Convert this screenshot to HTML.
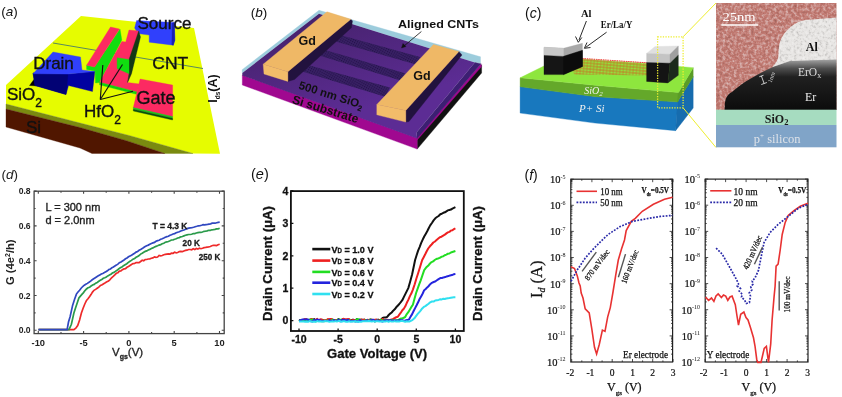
<!DOCTYPE html>
<html><head><meta charset="utf-8"><style>
html,body{margin:0;padding:0;background:#fff;overflow:hidden;}
svg{display:block;filter:blur(0.6px);}
</style></head><body>
<svg width="842" height="397" viewBox="0 0 842 397">
<rect width="842" height="397" fill="#fff"/>
<g id="pa">
<polygon fill="#e6fc00" points="6,85 81,16 194,28 220,153.8 193,153.5 130,135.7 80,123 6,104"/>
<polygon fill="#7a8a10" stroke="#7a8a10" stroke-width="0.35" points="6,104 80,123 130,135.7 193,153.5 164.8,153.5 126.5,140.7 80,127.5 6,109"/>
<polygon fill="#501600" stroke="#501600" stroke-width="0.35" points="6,109 80,127.5 126.5,140.7 164.8,153.5 92,153.5 80,148 6,127"/>
<line x1="53" y1="43" x2="203" y2="68.5" stroke="#4a7a6a" stroke-width="0.9"/>
<polygon fill="#000" stroke="#000" stroke-width="0.35" points="29.5,85.5 35,78 38,86"/>
<polygon fill="#0202a0" stroke="#0202a0" stroke-width="0.35" points="33,73 68,74 95,71 92.5,91.5 68.5,85.5 66,94.5 35,85.5"/>
<polygon fill="#020274" stroke="#020274" stroke-width="0.35" points="33,73 68,74.5 66,94.5 35,85.5"/>
<polygon fill="#3040fc" stroke="#3040fc" stroke-width="0.35" points="53,52 80.5,57 82,70 95,71.5 68,74 33,73.8"/>
<polygon fill="#3040fc" stroke="#3040fc" stroke-width="0.35" points="136.6,20.5 174.3,22.6 174.8,40.2 173.3,45.2 149.2,42.2 149.2,35.1 138.1,33.6 134.6,28.1"/>
<polygon fill="#1a20b0" stroke="#1a20b0" stroke-width="0.35" points="172.3,23 174.3,22.6 174.8,40.2 173.3,45.2 171.8,44.8"/>
<polygon fill="#10dd10" stroke="#10dd10" stroke-width="0.35" points="120,29 121.8,40 99.5,82.5 95.5,83 95,71 86.6,69.5 86.6,65.2 94.6,67"/>
<polygon fill="#fc2a62" stroke="#fc2a62" stroke-width="0.35" points="110.5,27 119.5,29 94.6,67 86.6,65.2"/>
<polygon fill="#fc2a62" stroke="#fc2a62" stroke-width="0.35" points="129,30 138.7,31 131,73.7 127.5,82.5 139.5,84 137,92 99.5,82.3 121.8,41.4 125.7,42"/>
<polygon fill="#143a14" stroke="#143a14" stroke-width="0.35" points="138.7,31 140.5,37 131.5,73.7 127.5,82.5 129,73.7 129,59.5"/>
<polygon fill="#10dd10" stroke="#10dd10" stroke-width="0.35" points="117.1,57.8 129,59.5 129,73.7 117.1,68.5"/>
<polygon fill="#10d010" stroke="#10d010" stroke-width="0.35" points="99.5,82.3 137,92 136.5,94.3 99.5,84.8"/>
<polygon fill="#fc2a62" stroke="#fc2a62" stroke-width="0.35" points="140.1,79 172.6,85.1 172.6,116.8 133.3,107.8"/>
<polygon fill="#20c020" stroke="#20c020" stroke-width="0.35" points="133.3,107.6 172.6,116.6 172.6,118.3 133.3,109.3"/>
<polygon fill="#0a5010" stroke="#0a5010" stroke-width="0.35" points="133.3,109.3 172.6,118.3 172.6,120 133.3,111"/>
<line x1="100.3" y1="99.5" x2="102.8" y2="65" stroke="#111" stroke-width="1.15"/>
<line x1="100.3" y1="99.5" x2="122.5" y2="64.5" stroke="#111" stroke-width="1.15"/>
<line x1="100.3" y1="99.5" x2="133" y2="91.3" stroke="#111" stroke-width="1.15"/>
<text x="1.3" y="16" font-family="Liberation Sans" fill="#111" font-size="13.5">(<tspan font-style="italic">a</tspan>)</text>
<text x="137.5" y="29.3" font-family="Liberation Sans" fill="#111" stroke="#111" stroke-width="0.35" font-size="17" textLength="54" lengthAdjust="spacingAndGlyphs">Source</text>
<text x="33.2" y="69.2" font-family="Liberation Sans" fill="#111" stroke="#111" stroke-width="0.35" font-size="17">Drain</text>
<text x="152.3" y="69.2" font-family="Liberation Sans" fill="#111" stroke="#111" stroke-width="0.35" font-size="17" textLength="36" lengthAdjust="spacingAndGlyphs">CNT</text>
<text x="7" y="99.7" font-family="Liberation Sans" fill="#111" stroke="#111" stroke-width="0.35" font-size="17">SiO<tspan font-size="12" dy="7">2</tspan></text>
<text x="84" y="117" font-family="Liberation Sans" fill="#111" stroke="#111" stroke-width="0.35" font-size="17">HfO<tspan font-size="12" dy="7">2</tspan></text>
<text x="136.5" y="104" font-family="Liberation Sans" fill="#111" stroke="#111" stroke-width="0.35" font-size="18">Gate</text>
<text x="26" y="133.2" font-family="Liberation Sans" fill="#111" stroke="#111" stroke-width="0.35" font-size="17">Si</text>
<text transform="translate(217,102.8) rotate(-90)" font-family="Liberation Sans" fill="#111" font-size="12.5" font-weight="bold">I<tspan font-size="6.5" dy="2.5">ds</tspan><tspan dy="-2.5">(A)</tspan></text>
</g>
<g id="pb">
<defs><linearGradient id="purp" gradientUnits="userSpaceOnUse" x1="300" y1="20" x2="330" y2="120"><stop offset="0" stop-color="#46226c"/><stop offset="1" stop-color="#5c2c94"/></linearGradient><pattern id="hatch" width="2.2" height="2.2" patternUnits="userSpaceOnUse" patternTransform="rotate(30)"><rect width="2.2" height="2.2" fill="#382064"/><rect width="1.1" height="1.1" fill="#24124a"/></pattern></defs>
<polygon fill="#9cccdc" stroke="#9cccdc" stroke-width="0.35" points="242.1,69.7 319,10.3 480.5,56.8 480.5,63 474.8,62.5 319,13.8 242.3,73"/>
<polygon fill="#111" stroke="#111" stroke-width="0.35" points="417.2,138 481.6,64.7 481.6,73 417.2,149.1"/>
<polygon fill="#a00890" stroke="#a00890" stroke-width="0.35" points="417.2,137.5 481,63.8 481.6,66.5 417.2,140"/>
<polygon fill="#a00890" stroke="#a00890" stroke-width="0.35" points="242.3,75 417.2,138 417.2,149.1 242.3,85"/>
<polygon fill="#3c1f72" stroke="#3c1f72" stroke-width="0.35" points="416.5,132.5 474.8,62.5 481,63.8 417.2,138.3"/>
<polygon fill="url(#purp)" points="242.3,73 319,13.8 474.8,62.5 416.5,132.5 417.2,138.4 242.3,75.4"/>
<polygon fill="url(#hatch)" points="342,35.6 420,57 416,64.5 335.5,41.5"/>
<polygon fill="url(#hatch)" points="323.5,49.6 405,73.2 401.3,80.8 318.4,55.2"/>
<polygon fill="url(#hatch)" points="307,64.7 390,87.4 385,96.8 301.3,71.3"/>
<polygon fill="#22123e" stroke="#22123e" stroke-width="0.35" points="350.8,19.2 352.5,21 351.4,27.7 294.5,79.5 287.9,81.4 287.9,71.7"/>
<polygon fill="#f2bc6a" stroke="#f2bc6a" stroke-width="0.35" points="263.2,64.2 287.9,71.7 287.9,81.4 264,74"/>
<polygon fill="#efb866" stroke="#efb866" stroke-width="0.35" points="327,11.8 350.8,19.2 287.9,71.7 263.2,64.2"/>
<polygon fill="#22123e" stroke="#22123e" stroke-width="0.35" points="458.9,51.4 462,55 409,121.5 405.8,122.1 405.8,110.5"/>
<polygon fill="#f2bc6a" stroke="#f2bc6a" stroke-width="0.35" points="376.8,104.6 405.8,110.5 405.8,122.1 376.8,114.8"/>
<polygon fill="#efb866" stroke="#efb866" stroke-width="0.35" points="433.5,44.5 458.9,51.4 405.8,110.5 376.8,104.6"/>
<text x="250.8" y="16.5" font-family="Liberation Sans" fill="#111" font-size="13.5">(<tspan font-style="italic">b</tspan>)</text>
<text x="398" y="28.2" font-family="Liberation Sans" fill="#111" font-size="11.8" font-weight="bold" textLength="81" lengthAdjust="spacingAndGlyphs">Aligned CNTs</text>
<line x1="421.4" y1="31.5" x2="404" y2="46" stroke="#111" stroke-width="0.8"/>
<polygon fill="#111" stroke="#111" stroke-width="0.35" points="401.5,48 403,43.5 406,46.5"/>
<text x="298.5" y="45.4" font-family="Liberation Sans" fill="#111" font-size="12.5" font-weight="bold">Gd</text>
<text x="413.3" y="79.6" font-family="Liberation Sans" fill="#111" font-size="12.5" font-weight="bold">Gd</text>
<text transform="translate(298,88.5) rotate(17.5)" font-family="Liberation Sans" fill="#111" font-size="11.5" font-weight="bold">500 nm SiO<tspan font-size="8" dy="3">2</tspan></text>
<text transform="translate(291.5,103) rotate(17)" font-family="Liberation Sans" fill="#111" font-size="12" font-weight="bold">Si substrate</text>
</g>
<g id="pc">
<defs>
<pattern id="cnt" width="3.3" height="2.9" patternUnits="userSpaceOnUse" patternTransform="rotate(5)"><path d="M0,1.45 L0.8,0 L2.45,0 L3.3,1.45 L2.45,2.9 L0.8,2.9 Z" fill="none" stroke="#dd4418" stroke-width="0.5"/></pattern>
<filter id="noise" x="0" y="0" width="1" height="1"><feTurbulence type="fractalNoise" baseFrequency="0.35" numOctaves="3" seed="3" result="t"/><feColorMatrix in="t" type="matrix" values="0 0 0 0 1  0 0 0 0 1  0 0 0 0 1  0.9 0 0 0 -0.42" result="w"/><feColorMatrix in="t" type="matrix" values="0 0 0 0 0  0 0 0 0 0  0 0 0 0 0  -1.0 0 0 0 0.46" result="k"/><feComposite in="w" in2="SourceGraphic" operator="in" result="w2"/><feComposite in="k" in2="SourceGraphic" operator="in" result="k2"/><feMerge><feMergeNode in="SourceGraphic"/><feMergeNode in="w2"/><feMergeNode in="k2"/></feMerge></filter>
<linearGradient id="erg" gradientUnits="userSpaceOnUse" x1="0" y1="59" x2="0" y2="110"><stop offset="0" stop-color="#a8a8a8"/><stop offset="0.18" stop-color="#505050"/><stop offset="0.35" stop-color="#202020"/><stop offset="1" stop-color="#0c0c0c"/></linearGradient>
</defs>
<polygon fill="#1878be" stroke="#1878be" stroke-width="0.35" points="520.1,86.5 595,96.4 678,101.7 675.6,130.7 595,123.1 520.1,113.1"/>
<polygon fill="#166cae" stroke="#166cae" stroke-width="0.35" points="677.5,101.7 693.2,76.5 693.2,108 675.6,130.7"/>
<polygon fill="#64a82a" stroke="#64a82a" stroke-width="0.35" points="520.1,77.8 595,85.3 678.6,92.6 678,102 595,96.7 520.1,86.8"/>
<polygon fill="#5a9c26" stroke="#5a9c26" stroke-width="0.35" points="678.1,92.9 693.2,67.7 693.2,77 677.5,102"/>
<polygon fill="#8ee63e" stroke="#8ee63e" stroke-width="0.35" points="520.1,77.8 552,62 573,58.5 647,63.5 693.2,67.7 678.6,92.6 595,85.3"/>
<polygon fill="url(#cnt)" points="571,57.5 647,62.5 647,75.5 574,74.5"/>
<line x1="573" y1="57.8" x2="647" y2="62.8" stroke="#ee2020" stroke-width="0.8" stroke-dasharray="1.5,0.8"/>
<polygon fill="#a8a8a8" stroke="#a8a8a8" stroke-width="0.35" points="544,47.3 563.5,48.3 582.4,43.3 582.4,50.4 563.5,56.4 544,55.4"/>
<polygon fill="#c8c8c8" stroke="#c8c8c8" stroke-width="0.35" points="544,47.3 563.5,48.3 563.5,56.4 544,55.4"/>
<polygon fill="#151515" stroke="#151515" stroke-width="0.35" points="544,55.4 563.5,56.4 582.4,50.4 582.4,66.5 563.5,74.6 544,74.6"/>
<polygon fill="#0c0c0c" stroke="#0c0c0c" stroke-width="0.35" points="563.5,56.4 582.4,50.4 582.4,66.5 563.5,74.6"/>
<polygon fill="#e0e0e0" stroke="#e0e0e0" stroke-width="0.35" points="646.6,53.4 655,46.6 678.3,45.9 670,54.2"/>
<polygon fill="#c4c4c4" stroke="#c4c4c4" stroke-width="0.35" points="646.6,53.4 670,54.2 670,63.2 646.6,62.5"/>
<polygon fill="#a0a0a0" stroke="#a0a0a0" stroke-width="0.35" points="670,54.2 678.3,45.9 678.3,55 670,63.2"/>
<polygon fill="#141414" stroke="#141414" stroke-width="0.35" points="646.6,62.5 670,63.2 667.8,82.9 646.6,81.4"/>
<polygon fill="#1c2a1c" stroke="#1c2a1c" stroke-width="0.35" points="670,63.2 678.3,55 678.3,75.3 667.8,82.9"/>
<rect x="657.6" y="36.8" width="25.5" height="71" fill="none" stroke="#eeee30" stroke-width="1.3" stroke-dasharray="1.3,1.3"/>
<line x1="683.1" y1="36.8" x2="716" y2="3" stroke="#eeee30" stroke-width="1"/>
<line x1="683.1" y1="107.8" x2="716" y2="147.5" stroke="#eeee30" stroke-width="1"/>
<g filter="url(#noise)">
<rect x="716" y="3" width="120.5" height="107" fill="#c27a72"/>
<path fill="#e6e4e2" d="M772,67.5 C776,63 778.5,60 778.5,54 C778.5,46 780,38 786,31.5 C792,25 798,21 806,20 L836.5,17.5 L836.5,63 L790,63.5 Z"/>
</g>
<path fill="url(#erg)" d="M772.9,66.9 L790,61 L836.5,59.5 L836.5,110 L724.5,110 L725,102.6 C726,97 728,94 732,92 C738,87 744,82 750.4,78.8 C758,74 766,70 772.9,66.9 Z"/>
<rect x="716" y="109.7" width="120.5" height="15.3" fill="#a6dcc0"/>
<rect x="716" y="125" width="120.5" height="22.3" fill="#80a4c8"/>
<text x="722.5" y="21" font-family="Liberation Serif" font-size="12.5" fill="#fff" textLength="33" lengthAdjust="spacingAndGlyphs">25nm</text>
<line x1="721.3" y1="25" x2="758.3" y2="25" stroke="#fff" stroke-width="1.3"/>
<text x="805.8" y="50.9" font-family="Liberation Serif" font-size="12" font-weight="bold" fill="#111">Al</text>
<text x="798" y="76" font-family="Liberation Serif" font-size="11.5" fill="#ddd">ErO<tspan font-size="8" dy="2">x</tspan></text>
<text x="805" y="101" font-family="Liberation Serif" font-size="12" fill="#eee">Er</text>
<text x="764.8" y="122.6" font-family="Liberation Serif" font-size="12" font-weight="bold" fill="#1a1a1a">SiO<tspan font-size="8.5" dy="2">2</tspan></text>
<text x="753.8" y="142.6" font-family="Liberation Serif" font-size="12.5" fill="#dde2e8">p<tspan font-size="7" dy="-4.5">+</tspan><tspan dy="4.5"> silicon</tspan></text>
<g stroke="#ddd" stroke-width="0.9"><line x1="761.4" y1="76" x2="764.1" y2="83.5"/><line x1="759.3" y1="76.75" x2="763.5" y2="75.25"/><line x1="761.3" y1="84.5" x2="766.9" y2="82.5"/></g>
<text transform="translate(771.5,83) rotate(-70)" font-family="Liberation Serif" font-size="6" fill="#ddd">1nm</text>
<text x="525" y="17.8" font-family="Liberation Sans" font-size="14" fill="#111">(<tspan font-style="italic">c</tspan>)</text>
<text x="581" y="17" font-family="Liberation Serif" font-size="10.5" font-weight="bold" fill="#111">Al</text>
<text x="600.8" y="28" font-family="Liberation Serif" font-size="10" font-weight="bold" fill="#111" textLength="31.5" lengthAdjust="spacingAndGlyphs">Er/La/Y</text>
<line x1="586.4" y1="21" x2="579" y2="40" stroke="#111" stroke-width="0.9"/>
<polyline points="575.5,36.5 578.3,42.3 581.8,37.5" fill="none" stroke="#111" stroke-width="0.9"/>
<line x1="606.6" y1="32.2" x2="585.5" y2="47.5" stroke="#111" stroke-width="0.9"/>
<polyline points="587,42.5 584.4,48.3 590.5,47.5" fill="none" stroke="#111" stroke-width="0.9"/>
<text x="584.2" y="93.5" font-family="Liberation Serif" font-size="10" font-style="italic" fill="#f0f0f0">SiO<tspan font-size="7" dy="2">2</tspan></text>
<text x="579" y="112" font-family="Liberation Serif" font-size="11" font-style="italic" fill="#f0f0f0">P+ Si</text>
</g>
<g id="pd">
<rect x="34.1" y="191.2" width="190.1" height="142.40000000000003" fill="none" stroke="#444" stroke-width="1.3"/>
<path d="M34.1,330.3 h2.5 M224.2,330.3 h-2.5 M34.1,312.9 h1.5 M224.2,312.9 h-1.5 M34.1,295.5 h2.5 M224.2,295.5 h-2.5 M34.1,278.1 h1.5 M224.2,278.1 h-1.5 M34.1,260.7 h2.5 M224.2,260.7 h-2.5 M34.1,243.3 h1.5 M224.2,243.3 h-1.5 M34.1,225.9 h2.5 M224.2,225.9 h-2.5 M34.1,208.5 h1.5 M224.2,208.5 h-1.5 M34.1,191.1 h2.5 M224.2,191.1 h-2.5 M38.3,333.6 v-2.5 M38.3,191.2 v2.5 M61.0,333.6 v-1.5 M61.0,191.2 v1.5 M83.6,333.6 v-2.5 M83.6,191.2 v2.5 M106.2,333.6 v-1.5 M106.2,191.2 v1.5 M128.9,333.6 v-2.5 M128.9,191.2 v2.5 M151.6,333.6 v-1.5 M151.6,191.2 v1.5 M174.2,333.6 v-2.5 M174.2,191.2 v2.5 M196.9,333.6 v-1.5 M196.9,191.2 v1.5 M219.5,333.6 v-2.5 M219.5,191.2 v2.5" stroke="#444" stroke-width="1.1" fill="none"/>
<text x="30.6" y="333.4" font-family="Liberation Sans" fill="#222" font-size="8.6" font-weight="bold" text-anchor="end">0.0</text>
<text x="30.6" y="298.6" font-family="Liberation Sans" fill="#222" font-size="8.6" font-weight="bold" text-anchor="end">0.2</text>
<text x="30.6" y="263.8" font-family="Liberation Sans" fill="#222" font-size="8.6" font-weight="bold" text-anchor="end">0.4</text>
<text x="30.6" y="229.0" font-family="Liberation Sans" fill="#222" font-size="8.6" font-weight="bold" text-anchor="end">0.6</text>
<text x="30.6" y="194.2" font-family="Liberation Sans" fill="#222" font-size="8.6" font-weight="bold" text-anchor="end">0.8</text>
<text x="38.3" y="346" font-family="Liberation Sans" fill="#222" font-size="9.3" font-weight="bold" text-anchor="middle">-10</text>
<text x="83.6" y="346" font-family="Liberation Sans" fill="#222" font-size="9.3" font-weight="bold" text-anchor="middle">-5</text>
<text x="128.9" y="346" font-family="Liberation Sans" fill="#222" font-size="9.3" font-weight="bold" text-anchor="middle">0</text>
<text x="174.2" y="346" font-family="Liberation Sans" fill="#222" font-size="9.3" font-weight="bold" text-anchor="middle">5</text>
<text x="219.5" y="346" font-family="Liberation Sans" fill="#222" font-size="9.3" font-weight="bold" text-anchor="middle">10</text>
<path d="M38.5,329.6 L73.9,329.6 L75.8,328.2 L77.7,325.5 L79.6,319.9 L81.4,313.0 L83.1,308.2 L84.8,304.0 L86.5,300.4 L88.0,298.8 L89.5,296.7 L91.0,294.6 L92.5,292.1 L94.0,290.3 L95.6,289.4 L97.2,288.3 L98.8,287.2 L100.5,285.5 L102.1,284.8 L103.7,283.7 L105.3,282.8 L106.9,281.8 L108.5,281.0 L110.0,279.6 L111.6,277.8 L113.2,276.4 L114.8,274.9 L116.3,273.3 L117.9,272.7 L119.4,271.1 L120.9,270.9 L122.4,269.7 L124.0,268.9 L125.5,268.7 L127.0,267.3 L128.5,266.5 L130.0,265.5 L131.5,264.5 L133.0,263.6 L134.6,263.5 L136.1,262.6 L137.6,262.5 L139.1,262.6 L140.6,261.5 L142.2,260.3 L143.7,260.7 L145.2,259.5 L146.7,259.5 L148.3,259.0 L149.8,258.9 L151.4,258.3 L152.9,257.9 L154.5,256.9 L156.0,257.4 L157.6,257.0 L159.1,255.5 L160.7,255.9 L162.2,255.5 L163.8,254.7 L165.3,254.4 L166.9,254.1 L168.4,253.8 L170.0,254.1 L171.5,253.2 L173.1,253.3 L174.6,252.3 L176.2,252.8 L177.7,252.5 L179.3,251.6 L180.8,251.4 L182.4,251.6 L183.9,251.0 L185.5,250.4 L187.0,250.2 L188.6,249.5 L190.1,249.5 L191.7,249.8 L193.2,248.8 L194.8,249.6 L196.3,248.5 L197.9,249.1 L199.4,248.1 L201.0,248.7 L202.5,248.2 L204.1,247.6 L205.6,247.4 L207.2,247.1 L208.7,246.9 L210.3,246.5 L211.9,245.8 L213.4,245.3 L215.0,245.3 L216.6,245.6 L218.1,244.8 L219.7,244.3" stroke="#ee2a2a" stroke-width="1.7" fill="none"/>
<path d="M38.5,329.6 L69.0,329.6 L71.4,324.3 L73.9,313.0 L75.6,307.8 L77.2,303.0 L78.9,297.9 L80.4,296.1 L81.9,294.4 L83.5,292.6 L85.0,290.6 L86.5,289.0 L88.0,287.8 L89.6,287.2 L91.1,286.0 L92.6,285.0 L94.2,284.4 L95.7,283.2 L97.2,282.4 L98.8,281.3 L100.3,280.3 L101.8,279.5 L103.3,278.3 L104.8,277.7 L106.3,276.9 L107.8,275.9 L109.4,275.1 L110.9,274.2 L112.4,273.0 L113.9,272.4 L115.4,271.4 L117.0,270.3 L118.6,269.0 L120.3,267.8 L121.9,267.0 L123.5,265.7 L125.1,264.7 L126.8,263.7 L128.4,262.4 L130.0,261.2 L131.5,260.4 L133.0,259.2 L134.6,258.4 L136.1,257.3 L137.6,256.5 L139.1,255.5 L140.6,254.1 L142.2,253.2 L143.7,252.2 L145.2,251.4 L146.7,250.9 L148.3,250.0 L149.8,249.4 L151.4,248.5 L152.9,247.9 L154.5,247.1 L156.0,246.4 L157.6,245.8 L159.1,245.1 L160.7,244.6 L162.2,243.8 L163.8,243.2 L165.3,242.3 L166.9,241.9 L168.4,241.5 L170.0,240.8 L171.5,240.0 L173.1,239.8 L174.6,239.3 L176.2,238.7 L177.7,238.0 L179.3,237.6 L180.8,236.8 L182.4,236.5 L183.9,235.9 L185.5,235.3 L187.0,234.9 L188.6,234.5 L190.1,234.5 L191.7,234.3 L193.2,233.5 L194.8,233.6 L196.3,233.0 L197.9,232.6 L199.4,232.4 L201.0,232.3 L202.5,232.0 L204.1,231.3 L205.6,231.2 L207.2,230.9 L208.7,230.3 L210.3,230.3 L211.9,229.8 L213.4,229.7 L215.0,229.4 L216.6,228.9 L218.1,228.8 L219.7,228.2" stroke="#2a9a4a" stroke-width="1.7" fill="none"/>
<path d="M38.5,329.6 L67.1,329.6 L68.5,322.0 L70.1,316.7 L72.6,305.4 L74.5,299.6 L76.4,294.1 L78.0,292.0 L79.6,290.2 L81.1,288.2 L82.7,286.5 L84.3,285.2 L85.8,284.3 L87.4,283.4 L89.0,282.3 L90.6,281.1 L92.2,279.8 L93.7,278.8 L95.3,277.7 L96.8,276.7 L98.3,275.8 L99.8,274.9 L101.3,274.0 L102.8,273.5 L104.4,272.6 L105.9,271.7 L107.4,270.8 L108.9,269.6 L110.4,268.9 L111.9,267.8 L113.4,267.0 L114.9,266.0 L116.4,265.1 L117.9,264.1 L119.4,262.7 L121.0,262.0 L122.5,261.0 L124.0,260.0 L125.5,258.8 L127.0,258.0 L128.5,256.8 L130.0,256.0 L131.5,255.3 L133.0,254.3 L134.6,253.2 L136.1,252.1 L137.6,251.5 L139.1,250.3 L140.6,249.5 L142.2,248.6 L143.7,247.5 L145.2,246.5 L146.7,245.7 L148.3,245.1 L149.8,244.3 L151.4,243.5 L152.9,242.9 L154.5,242.4 L156.0,241.3 L157.6,240.6 L159.1,240.2 L160.7,239.3 L162.2,238.7 L163.8,238.0 L165.3,237.3 L166.9,236.6 L168.4,236.3 L170.0,235.3 L171.5,234.8 L173.1,234.0 L174.6,233.6 L176.2,232.8 L177.7,232.2 L179.3,231.8 L180.8,231.0 L182.4,230.5 L183.9,230.0 L185.5,229.2 L187.1,228.6 L188.7,228.2 L190.3,227.9 L191.9,227.7 L193.6,227.3 L195.2,226.7 L196.8,226.3 L198.4,225.8 L200.0,225.6 L201.6,225.2 L203.1,224.7 L204.6,224.8 L206.1,224.6 L207.6,224.4 L209.1,224.1 L210.6,223.9 L212.2,223.2 L213.7,223.1 L215.2,223.2 L216.7,222.8 L218.2,222.4 L219.7,222.2" stroke="#3048c0" stroke-width="1.7" fill="none"/>
<text x="45.4" y="211.4" font-family="Liberation Sans" fill="#222" font-size="11" stroke="#222" stroke-width="0.35">L = 300 nm</text>
<text x="45.4" y="223.5" font-family="Liberation Sans" fill="#222" font-size="11" stroke="#222" stroke-width="0.35">d = 2.0nm</text>
<text x="152.4" y="228.9" font-family="Liberation Sans" fill="#222" font-size="9.2" font-weight="bold" stroke="#111" stroke-width="0.3" textLength="35" lengthAdjust="spacingAndGlyphs">T = 4.3 K</text>
<text x="182.6" y="246.1" font-family="Liberation Sans" fill="#222" font-size="9.2" font-weight="bold" stroke="#111" stroke-width="0.3" textLength="17.3" lengthAdjust="spacingAndGlyphs">20 K</text>
<text x="198.8" y="259.7" font-family="Liberation Sans" fill="#222" font-size="9.2" font-weight="bold" stroke="#111" stroke-width="0.3" textLength="21.5" lengthAdjust="spacingAndGlyphs">250 K</text>
<text transform="translate(14,285) rotate(-90)" font-family="Liberation Sans" fill="#222" font-size="11.2" font-weight="bold">G (4e<tspan font-size="7" dy="-4">2</tspan><tspan dy="4">/h)</tspan></text>
<text x="112" y="356" font-family="Liberation Sans" fill="#222" font-size="11.5" stroke="#222" stroke-width="0.3">V<tspan font-size="7" dy="3" font-weight="bold">gs</tspan><tspan dy="-3">(V)</tspan></text>
<text x="1.5" y="179" font-family="Liberation Sans" fill="#222" font-size="13.5">(<tspan font-style="italic">d</tspan>)</text>
</g>
<g id="pe">
<rect x="290.9" y="191.1" width="172.90000000000003" height="139.9" fill="none" stroke="#111" stroke-width="1.8"/>
<path d="M290.9,320.6 h2.5 M290.9,288.2 h2.5 M290.9,255.8 h2.5 M290.9,223.4 h2.5 M290.9,191.0 h2.5 M299.0,331 v-2.5 M338.1,331 v-2.5 M377.2,331 v-2.5 M416.3,331 v-2.5 M455.4,331 v-2.5" stroke="#111" stroke-width="1.3"/>
<text x="288.3" y="324.4" font-family="Liberation Sans" fill="#111" font-weight="bold" stroke="#111" stroke-width="0.3" font-size="10.5" text-anchor="end">0</text>
<text x="288.3" y="292.0" font-family="Liberation Sans" fill="#111" font-weight="bold" stroke="#111" stroke-width="0.3" font-size="10.5" text-anchor="end">1</text>
<text x="288.3" y="259.6" font-family="Liberation Sans" fill="#111" font-weight="bold" stroke="#111" stroke-width="0.3" font-size="10.5" text-anchor="end">2</text>
<text x="288.3" y="227.2" font-family="Liberation Sans" fill="#111" font-weight="bold" stroke="#111" stroke-width="0.3" font-size="10.5" text-anchor="end">3</text>
<text x="288.3" y="194.8" font-family="Liberation Sans" fill="#111" font-weight="bold" stroke="#111" stroke-width="0.3" font-size="10.5" text-anchor="end">4</text>
<text x="299.0" y="342.5" font-family="Liberation Sans" fill="#111" font-weight="bold" stroke="#111" stroke-width="0.3" font-size="10.5" text-anchor="middle">-10</text>
<text x="338.1" y="342.5" font-family="Liberation Sans" fill="#111" font-weight="bold" stroke="#111" stroke-width="0.3" font-size="10.5" text-anchor="middle">-5</text>
<text x="377.2" y="342.5" font-family="Liberation Sans" fill="#111" font-weight="bold" stroke="#111" stroke-width="0.3" font-size="10.5" text-anchor="middle">0</text>
<text x="416.3" y="342.5" font-family="Liberation Sans" fill="#111" font-weight="bold" stroke="#111" stroke-width="0.3" font-size="10.5" text-anchor="middle">5</text>
<text x="455.4" y="342.5" font-family="Liberation Sans" fill="#111" font-weight="bold" stroke="#111" stroke-width="0.3" font-size="10.5" text-anchor="middle">10</text>
<text x="327" y="358" font-family="Liberation Sans" fill="#111" font-weight="bold" stroke="#111" stroke-width="0.3" font-size="13.6" textLength="100.2" lengthAdjust="spacingAndGlyphs">Gate Voltage (V)</text>
<text transform="translate(272.3,321) rotate(-90)" font-family="Liberation Sans" fill="#111" font-weight="bold" stroke="#111" stroke-width="0.3" font-size="13" textLength="115" lengthAdjust="spacingAndGlyphs">Drain Current (μA)</text>
<text transform="translate(482.3,321) rotate(-90)" font-family="Liberation Sans" fill="#111" font-weight="bold" stroke="#111" stroke-width="0.3" font-size="13" textLength="115" lengthAdjust="spacingAndGlyphs">Drain Current (μA)</text>
<text x="251" y="179.3" font-family="Liberation Sans" fill="#111" font-size="14.5">(<tspan font-style="italic">e</tspan>)</text>
<path d="M299.0,320.1 L300.5,320.1 L302.0,320.4 L303.6,320.4 L305.1,320.4 L306.6,319.3 L308.1,320.5 L309.6,320.4 L311.2,319.3 L312.7,320.5 L314.2,319.1 L315.7,320.2 L317.2,320.4 L318.8,320.8 L320.3,320.2 L321.8,319.8 L323.3,320.2 L324.9,320.5 L326.4,320.5 L327.9,321.1 L329.4,319.6 L330.9,319.3 L332.5,320.4 L334.0,320.2 L335.5,319.9 L337.0,320.2 L338.5,319.1 L340.1,320.3 L341.6,319.9 L343.1,319.0 L344.6,320.0 L346.1,320.1 L347.7,319.8 L349.2,320.2 L350.7,320.6 L352.2,319.8 L353.7,319.8 L355.3,320.8 L356.8,319.1 L358.3,320.3 L359.8,320.2 L361.4,319.8 L362.9,319.7 L364.4,319.8 L365.9,320.3 L367.4,320.0 L369.0,319.9 L370.5,319.4 L372.0,319.8 L373.5,320.2 L375.0,320.6 L376.6,320.0 L378.1,319.6 L379.6,320.5 L381.1,319.5 L382.6,318.0 L384.2,317.4 L385.7,317.5 L387.2,316.8 L388.7,315.0 L390.2,313.6 L391.7,312.5 L393.2,310.7 L394.7,309.3 L396.2,307.3 L397.7,305.7 L399.3,304.0 L400.8,302.1 L402.3,300.2 L403.8,297.1 L405.3,294.1 L406.8,291.1 L408.3,288.1 L410.2,281.5 L412.1,274.5 L413.6,267.3 L415.1,260.0 L416.6,255.2 L418.1,250.6 L419.6,247.1 L421.1,243.2 L422.7,239.7 L424.2,236.5 L425.7,233.9 L427.2,231.3 L428.7,228.2 L430.2,225.4 L431.9,223.0 L433.6,220.4 L435.3,218.3 L437.0,217.0 L438.6,216.0 L440.3,214.3 L441.8,213.7 L443.4,212.8 L444.9,212.3 L446.4,211.3 L447.9,210.4 L449.4,209.9 L450.9,209.6 L452.4,208.6 L453.9,207.9 L455.4,207.2" stroke="#111" stroke-width="2" fill="none" stroke-linejoin="round"/>
<path d="M299.0,320.4 L300.5,320.6 L302.0,320.2 L303.6,319.9 L305.1,318.9 L306.6,319.9 L308.1,320.6 L309.6,320.1 L311.2,319.0 L312.7,319.2 L314.2,320.0 L315.7,320.1 L317.2,318.9 L318.8,320.7 L320.3,319.2 L321.8,319.6 L323.3,320.7 L324.8,320.5 L326.4,320.3 L327.9,319.0 L329.4,319.4 L330.9,319.1 L332.4,319.2 L334.0,320.3 L335.5,320.0 L337.0,319.9 L338.5,320.5 L340.0,320.4 L341.6,320.8 L343.1,318.8 L344.6,319.2 L346.1,319.2 L347.6,319.3 L349.2,319.0 L350.7,321.0 L352.2,320.3 L353.7,319.9 L355.2,320.9 L356.8,320.0 L358.3,320.4 L359.8,319.7 L361.3,319.5 L362.8,320.3 L364.4,319.6 L365.9,320.8 L367.4,319.7 L368.9,319.9 L370.4,320.0 L372.0,320.6 L373.5,320.0 L375.0,319.7 L376.5,319.6 L378.0,320.5 L379.6,320.6 L381.1,320.1 L382.6,318.9 L384.1,319.9 L385.6,320.1 L387.2,319.8 L388.7,319.9 L390.2,319.8 L391.7,319.5 L393.2,318.8 L394.8,318.0 L396.3,317.2 L397.8,316.8 L399.3,314.6 L400.8,312.7 L402.3,310.3 L403.8,308.7 L405.3,306.3 L406.8,302.8 L408.3,299.9 L409.9,296.1 L411.4,293.3 L412.9,289.6 L414.7,284.2 L416.4,278.5 L418.2,273.0 L420.2,266.5 L422.2,260.0 L423.7,257.2 L425.2,254.3 L426.7,251.2 L428.2,248.5 L429.9,246.3 L431.6,244.5 L433.3,242.5 L435.0,241.5 L436.6,239.9 L438.3,238.5 L439.9,237.2 L441.5,236.7 L443.2,235.6 L444.8,234.7 L446.4,233.4 L447.9,232.4 L449.4,231.9 L450.9,230.6 L452.4,230.2 L453.9,229.1 L455.4,228.4" stroke="#ee2020" stroke-width="2" fill="none" stroke-linejoin="round"/>
<path d="M299.0,321.2 L300.5,319.9 L302.0,320.7 L303.6,319.7 L305.1,320.5 L306.6,320.0 L308.1,320.9 L309.6,319.4 L311.2,320.2 L312.7,319.5 L314.2,319.8 L315.7,321.4 L317.2,320.9 L318.8,320.1 L320.3,321.0 L321.8,321.3 L323.3,320.7 L324.8,321.2 L326.4,320.5 L327.9,321.0 L329.4,320.4 L330.9,321.1 L332.4,319.6 L334.0,320.8 L335.5,320.6 L337.0,320.4 L338.5,319.5 L340.0,319.8 L341.6,319.7 L343.1,320.1 L344.6,320.1 L346.1,320.8 L347.6,320.1 L349.2,320.3 L350.7,320.8 L352.2,321.0 L353.7,321.0 L355.2,321.2 L356.8,319.2 L358.3,319.3 L359.8,319.4 L361.3,320.9 L362.8,320.9 L364.4,320.8 L365.9,320.2 L367.4,320.3 L368.9,321.0 L370.4,319.7 L372.0,320.5 L373.5,320.2 L375.0,321.4 L376.5,320.6 L378.0,320.6 L379.6,321.1 L381.1,319.8 L382.6,321.1 L384.1,320.3 L385.6,320.5 L387.2,320.6 L388.7,320.5 L390.2,320.3 L391.7,320.4 L393.2,320.0 L394.8,320.4 L396.3,320.3 L397.8,320.2 L399.3,319.4 L400.8,318.5 L402.3,318.4 L403.8,317.8 L405.3,316.8 L406.8,314.1 L408.3,312.2 L409.9,309.5 L411.4,306.9 L412.9,304.7 L414.5,298.7 L416.1,293.0 L418.9,285.1 L420.7,280.3 L422.4,275.4 L424.2,270.1 L426.1,267.6 L428.1,265.8 L430.0,263.5 L431.6,262.1 L433.1,261.4 L434.7,260.0 L436.3,259.0 L438.0,258.5 L439.7,257.9 L441.4,256.8 L443.0,256.4 L444.7,255.2 L446.4,254.6 L447.9,253.7 L449.4,253.5 L450.9,252.5 L452.4,252.0 L453.9,251.5 L455.4,251.0" stroke="#22dd22" stroke-width="2" fill="none" stroke-linejoin="round"/>
<path d="M299.0,320.6 L300.5,320.2 L302.0,319.6 L303.6,319.6 L305.1,319.6 L306.6,319.6 L308.1,319.5 L309.6,320.8 L311.1,321.3 L312.7,321.4 L314.2,319.8 L315.7,320.8 L317.2,319.6 L318.7,319.9 L320.3,320.3 L321.8,321.1 L323.3,321.3 L324.8,320.9 L326.3,321.1 L327.9,321.0 L329.4,320.1 L330.9,321.0 L332.4,321.0 L333.9,320.0 L335.4,320.9 L337.0,321.0 L338.5,319.7 L340.0,321.4 L341.5,320.1 L343.0,320.1 L344.6,319.7 L346.1,320.8 L347.6,319.7 L349.1,320.6 L350.6,321.1 L352.1,321.2 L353.7,320.8 L355.2,321.4 L356.7,321.1 L358.2,321.6 L359.7,320.0 L361.3,320.8 L362.8,321.1 L364.3,321.0 L365.8,320.8 L367.3,320.2 L368.9,321.1 L370.4,320.3 L371.9,320.3 L373.4,319.8 L374.9,321.4 L376.4,320.6 L378.0,320.6 L379.5,321.1 L381.0,321.1 L382.5,321.6 L384.0,320.5 L385.6,320.4 L387.1,320.3 L388.6,320.6 L390.1,320.3 L391.6,320.4 L393.2,320.7 L394.7,320.4 L396.2,320.5 L397.7,320.8 L399.2,320.2 L400.7,320.2 L402.3,320.3 L403.8,320.7 L405.3,320.5 L407.1,320.1 L409.0,319.5 L410.5,316.8 L412.0,314.4 L413.5,311.3 L415.1,308.1 L416.6,305.3 L418.1,302.3 L419.6,299.0 L421.1,296.4 L422.7,293.5 L424.2,290.2 L425.7,289.0 L427.2,287.4 L428.7,286.0 L430.2,284.2 L431.9,282.8 L433.6,282.0 L435.2,281.5 L436.9,280.3 L438.6,279.1 L440.3,278.1 L441.9,278.0 L443.5,277.4 L445.2,277.1 L446.8,276.4 L448.4,276.1 L450.1,275.4 L451.9,275.1 L453.6,274.3 L455.4,274.1" stroke="#2424dd" stroke-width="2" fill="none" stroke-linejoin="round"/>
<path d="M299.0,321.4 L300.5,321.5 L302.0,321.6 L303.6,321.6 L305.1,321.7 L306.6,321.6 L308.1,321.7 L309.6,321.1 L311.1,321.4 L312.7,321.7 L314.2,321.5 L315.7,321.7 L317.2,321.1 L318.7,321.4 L320.2,321.2 L321.8,321.4 L323.3,321.5 L324.8,321.1 L326.3,321.2 L327.8,321.2 L329.4,321.7 L330.9,321.6 L332.4,321.2 L333.9,321.6 L335.4,321.1 L336.9,321.5 L338.5,321.1 L340.0,321.1 L341.5,321.7 L343.0,321.2 L344.5,321.2 L346.1,321.7 L347.6,321.7 L349.1,321.3 L350.6,321.7 L352.1,321.4 L353.6,321.5 L355.2,321.2 L356.7,321.7 L358.2,321.5 L359.7,321.7 L361.2,321.7 L362.7,321.3 L364.3,321.3 L365.8,321.2 L367.3,321.2 L368.8,321.1 L370.3,321.3 L371.9,321.5 L373.4,321.1 L374.9,321.5 L376.4,321.3 L377.9,321.3 L379.4,321.6 L381.0,321.4 L382.5,321.3 L384.0,321.4 L385.5,321.5 L387.0,321.1 L388.6,321.7 L390.1,321.1 L391.6,321.6 L393.1,321.6 L394.6,321.1 L396.1,321.6 L397.7,321.3 L399.2,321.5 L400.7,321.1 L402.2,321.1 L403.7,321.2 L405.2,321.7 L406.8,321.2 L408.3,321.6 L409.8,321.4 L411.3,320.7 L412.9,319.6 L414.4,318.3 L416.0,316.2 L417.5,314.2 L419.1,312.4 L420.6,310.6 L422.2,308.4 L423.8,306.9 L425.4,306.1 L427.0,304.9 L428.6,303.8 L430.2,302.3 L431.9,301.5 L433.6,301.6 L435.2,300.5 L436.9,300.2 L438.6,299.9 L440.3,299.3 L441.8,299.4 L443.3,298.8 L444.8,299.0 L446.3,298.5 L447.9,298.2 L449.4,298.0 L450.9,297.7 L452.4,297.4 L453.9,297.3 L455.4,297.3" stroke="#30e0f0" stroke-width="2" fill="none" stroke-linejoin="round"/>
<line x1="312.3" y1="249.1" x2="330.3" y2="249.1" stroke="#111" stroke-width="2.6"/>
<text x="331.5" y="252.7" font-family="Liberation Sans" fill="#111" font-weight="bold" stroke="#111" stroke-width="0.3" font-size="9.6" textLength="42" lengthAdjust="spacingAndGlyphs">V<tspan font-size="6.5">D</tspan> = 1.0 V</text>
<line x1="312.3" y1="260.6" x2="330.3" y2="260.6" stroke="#ee2020" stroke-width="2.6"/>
<text x="331.5" y="264.2" font-family="Liberation Sans" fill="#111" font-weight="bold" stroke="#111" stroke-width="0.3" font-size="9.6" textLength="42" lengthAdjust="spacingAndGlyphs">V<tspan font-size="6.5">D</tspan> = 0.8 V</text>
<line x1="312.3" y1="271.9" x2="330.3" y2="271.9" stroke="#22dd22" stroke-width="2.6"/>
<text x="331.5" y="275.5" font-family="Liberation Sans" fill="#111" font-weight="bold" stroke="#111" stroke-width="0.3" font-size="9.6" textLength="42" lengthAdjust="spacingAndGlyphs">V<tspan font-size="6.5">D</tspan> = 0.6 V</text>
<line x1="312.3" y1="282.7" x2="330.3" y2="282.7" stroke="#2424dd" stroke-width="2.6"/>
<text x="331.5" y="286.3" font-family="Liberation Sans" fill="#111" font-weight="bold" stroke="#111" stroke-width="0.3" font-size="9.6" textLength="42" lengthAdjust="spacingAndGlyphs">V<tspan font-size="6.5">D</tspan> = 0.4 V</text>
<line x1="312.3" y1="294" x2="330.3" y2="294" stroke="#30e0f0" stroke-width="2.6"/>
<text x="331.5" y="297.6" font-family="Liberation Sans" fill="#111" font-weight="bold" stroke="#111" stroke-width="0.3" font-size="9.6" textLength="42" lengthAdjust="spacingAndGlyphs">V<tspan font-size="6.5">D</tspan> = 0.2 V</text>
</g>
<g id="pf">
<rect x="570.8" y="179.2" width="101.80000000000007" height="182.8" fill="none" stroke="#222" stroke-width="1.2"/>
<path d="M570.8,179.2 h3 M672.6,179.2 h-3 M570.8,197.45 h1.6 M672.6,197.45 h-1.6 M570.8,192.85 h1.6 M672.6,192.85 h-1.6 M570.8,189.59 h1.6 M672.6,189.59 h-1.6 M570.8,187.06 h1.6 M672.6,187.06 h-1.6 M570.8,184.99 h1.6 M672.6,184.99 h-1.6 M570.8,183.25 h1.6 M672.6,183.25 h-1.6 M570.8,181.73 h1.6 M672.6,181.73 h-1.6 M570.8,180.39 h1.6 M672.6,180.39 h-1.6 M570.8,205.3 h3 M672.6,205.3 h-3 M570.8,223.57 h1.6 M672.6,223.57 h-1.6 M570.8,218.97 h1.6 M672.6,218.97 h-1.6 M570.8,215.71 h1.6 M672.6,215.71 h-1.6 M570.8,213.18 h1.6 M672.6,213.18 h-1.6 M570.8,211.11 h1.6 M672.6,211.11 h-1.6 M570.8,209.36 h1.6 M672.6,209.36 h-1.6 M570.8,207.85 h1.6 M672.6,207.85 h-1.6 M570.8,206.51 h1.6 M672.6,206.51 h-1.6 M570.8,231.4 h3 M672.6,231.4 h-3 M570.8,249.68 h1.6 M672.6,249.68 h-1.6 M570.8,245.08 h1.6 M672.6,245.08 h-1.6 M570.8,241.82 h1.6 M672.6,241.82 h-1.6 M570.8,239.29 h1.6 M672.6,239.29 h-1.6 M570.8,237.22 h1.6 M672.6,237.22 h-1.6 M570.8,235.47 h1.6 M672.6,235.47 h-1.6 M570.8,233.96 h1.6 M672.6,233.96 h-1.6 M570.8,232.62 h1.6 M672.6,232.62 h-1.6 M570.8,257.5 h3 M672.6,257.5 h-3 M570.8,275.80 h1.6 M672.6,275.80 h-1.6 M570.8,271.20 h1.6 M672.6,271.20 h-1.6 M570.8,267.93 h1.6 M672.6,267.93 h-1.6 M570.8,265.40 h1.6 M672.6,265.40 h-1.6 M570.8,263.34 h1.6 M672.6,263.34 h-1.6 M570.8,261.59 h1.6 M672.6,261.59 h-1.6 M570.8,260.07 h1.6 M672.6,260.07 h-1.6 M570.8,258.74 h1.6 M672.6,258.74 h-1.6 M570.8,283.7 h3 M672.6,283.7 h-3 M570.8,301.91 h1.6 M672.6,301.91 h-1.6 M570.8,297.31 h1.6 M672.6,297.31 h-1.6 M570.8,294.05 h1.6 M672.6,294.05 h-1.6 M570.8,291.52 h1.6 M672.6,291.52 h-1.6 M570.8,289.45 h1.6 M672.6,289.45 h-1.6 M570.8,287.70 h1.6 M672.6,287.70 h-1.6 M570.8,286.19 h1.6 M672.6,286.19 h-1.6 M570.8,284.85 h1.6 M672.6,284.85 h-1.6 M570.8,309.8 h3 M672.6,309.8 h-3 M570.8,328.02 h1.6 M672.6,328.02 h-1.6 M570.8,323.43 h1.6 M672.6,323.43 h-1.6 M570.8,320.16 h1.6 M672.6,320.16 h-1.6 M570.8,317.63 h1.6 M672.6,317.63 h-1.6 M570.8,315.56 h1.6 M672.6,315.56 h-1.6 M570.8,313.82 h1.6 M672.6,313.82 h-1.6 M570.8,312.30 h1.6 M672.6,312.30 h-1.6 M570.8,310.97 h1.6 M672.6,310.97 h-1.6 M570.8,335.9 h3 M672.6,335.9 h-3 M570.8,354.14 h1.6 M672.6,354.14 h-1.6 M570.8,349.54 h1.6 M672.6,349.54 h-1.6 M570.8,346.28 h1.6 M672.6,346.28 h-1.6 M570.8,343.75 h1.6 M672.6,343.75 h-1.6 M570.8,341.68 h1.6 M672.6,341.68 h-1.6 M570.8,339.93 h1.6 M672.6,339.93 h-1.6 M570.8,338.42 h1.6 M672.6,338.42 h-1.6 M570.8,337.08 h1.6 M672.6,337.08 h-1.6 M571.7,362 v-3 M571.7,179.2 v3 M581.8,362 v-1.6 M581.8,179.2 v1.6 M591.9,362 v-3 M591.9,179.2 v3 M602.1,362 v-1.6 M602.1,179.2 v1.6 M612.2,362 v-3 M612.2,179.2 v3 M622.3,362 v-1.6 M622.3,179.2 v1.6 M632.5,362 v-3 M632.5,179.2 v3 M642.6,362 v-1.6 M642.6,179.2 v1.6 M652.7,362 v-3 M652.7,179.2 v3 M662.9,362 v-1.6 M662.9,179.2 v1.6 M673.0,362 v-3 M673.0,179.2 v3" stroke="#222" stroke-width="0.8" fill="none"/>
<text x="565.5999999999999" y="183.0" font-family="Liberation Serif" fill="#111" stroke="#111" stroke-width="0.22" font-size="10.5" text-anchor="end" >10<tspan font-size="6" dy="-4.5" stroke-width="0">-5</tspan></text>
<text x="565.5999999999999" y="209.1" font-family="Liberation Serif" fill="#111" stroke="#111" stroke-width="0.22" font-size="10.5" text-anchor="end" >10<tspan font-size="6" dy="-4.5" stroke-width="0">-6</tspan></text>
<text x="565.5999999999999" y="235.2" font-family="Liberation Serif" fill="#111" stroke="#111" stroke-width="0.22" font-size="10.5" text-anchor="end" >10<tspan font-size="6" dy="-4.5" stroke-width="0">-7</tspan></text>
<text x="565.5999999999999" y="261.3" font-family="Liberation Serif" fill="#111" stroke="#111" stroke-width="0.22" font-size="10.5" text-anchor="end" >10<tspan font-size="6" dy="-4.5" stroke-width="0">-8</tspan></text>
<text x="565.5999999999999" y="287.5" font-family="Liberation Serif" fill="#111" stroke="#111" stroke-width="0.22" font-size="10.5" text-anchor="end" >10<tspan font-size="6" dy="-4.5" stroke-width="0">-9</tspan></text>
<text x="565.5999999999999" y="313.6" font-family="Liberation Serif" fill="#111" stroke="#111" stroke-width="0.22" font-size="10.5" text-anchor="end" >10<tspan font-size="6" dy="-4.5" stroke-width="0">-10</tspan></text>
<text x="565.5999999999999" y="339.7" font-family="Liberation Serif" fill="#111" stroke="#111" stroke-width="0.22" font-size="10.5" text-anchor="end" >10<tspan font-size="6" dy="-4.5" stroke-width="0">-11</tspan></text>
<text x="565.5999999999999" y="365.8" font-family="Liberation Serif" fill="#111" stroke="#111" stroke-width="0.22" font-size="10.5" text-anchor="end" >10<tspan font-size="6" dy="-4.5" stroke-width="0">-12</tspan></text>
<text x="570.2" y="375.5" font-family="Liberation Serif" fill="#111" stroke="#111" stroke-width="0.22" font-size="9.5" text-anchor="middle">-2</text>
<text x="590.4" y="375.5" font-family="Liberation Serif" fill="#111" stroke="#111" stroke-width="0.22" font-size="9.5" text-anchor="middle">-1</text>
<text x="612.2" y="375.5" font-family="Liberation Serif" fill="#111" stroke="#111" stroke-width="0.22" font-size="9.5" text-anchor="middle">0</text>
<text x="632.5" y="375.5" font-family="Liberation Serif" fill="#111" stroke="#111" stroke-width="0.22" font-size="9.5" text-anchor="middle">1</text>
<text x="652.7" y="375.5" font-family="Liberation Serif" fill="#111" stroke="#111" stroke-width="0.22" font-size="9.5" text-anchor="middle">2</text>
<text x="673.0" y="375.5" font-family="Liberation Serif" fill="#111" stroke="#111" stroke-width="0.22" font-size="9.5" text-anchor="middle">3</text>
<rect x="705.2" y="179.1" width="102.79999999999995" height="182.9" fill="none" stroke="#222" stroke-width="1.2"/>
<path d="M705.2,179.1 h3 M808,179.1 h-3 M705.2,197.36 h1.6 M808,197.36 h-1.6 M705.2,192.76 h1.6 M808,192.76 h-1.6 M705.2,189.50 h1.6 M808,189.50 h-1.6 M705.2,186.97 h1.6 M808,186.97 h-1.6 M705.2,184.90 h1.6 M808,184.90 h-1.6 M705.2,183.15 h1.6 M808,183.15 h-1.6 M705.2,181.63 h1.6 M808,181.63 h-1.6 M705.2,180.30 h1.6 M808,180.30 h-1.6 M705.2,205.2 h3 M808,205.2 h-3 M705.2,223.49 h1.6 M808,223.49 h-1.6 M705.2,218.89 h1.6 M808,218.89 h-1.6 M705.2,215.63 h1.6 M808,215.63 h-1.6 M705.2,213.09 h1.6 M808,213.09 h-1.6 M705.2,211.03 h1.6 M808,211.03 h-1.6 M705.2,209.28 h1.6 M808,209.28 h-1.6 M705.2,207.76 h1.6 M808,207.76 h-1.6 M705.2,206.42 h1.6 M808,206.42 h-1.6 M705.2,231.4 h3 M808,231.4 h-3 M705.2,249.62 h1.6 M808,249.62 h-1.6 M705.2,245.02 h1.6 M808,245.02 h-1.6 M705.2,241.75 h1.6 M808,241.75 h-1.6 M705.2,239.22 h1.6 M808,239.22 h-1.6 M705.2,237.15 h1.6 M808,237.15 h-1.6 M705.2,235.40 h1.6 M808,235.40 h-1.6 M705.2,233.89 h1.6 M808,233.89 h-1.6 M705.2,232.55 h1.6 M808,232.55 h-1.6 M705.2,257.5 h3 M808,257.5 h-3 M705.2,275.75 h1.6 M808,275.75 h-1.6 M705.2,271.15 h1.6 M808,271.15 h-1.6 M705.2,267.88 h1.6 M808,267.88 h-1.6 M705.2,265.35 h1.6 M808,265.35 h-1.6 M705.2,263.28 h1.6 M808,263.28 h-1.6 M705.2,261.53 h1.6 M808,261.53 h-1.6 M705.2,260.02 h1.6 M808,260.02 h-1.6 M705.2,258.68 h1.6 M808,258.68 h-1.6 M705.2,283.6 h3 M808,283.6 h-3 M705.2,301.88 h1.6 M808,301.88 h-1.6 M705.2,297.28 h1.6 M808,297.28 h-1.6 M705.2,294.01 h1.6 M808,294.01 h-1.6 M705.2,291.48 h1.6 M808,291.48 h-1.6 M705.2,289.41 h1.6 M808,289.41 h-1.6 M705.2,287.66 h1.6 M808,287.66 h-1.6 M705.2,286.15 h1.6 M808,286.15 h-1.6 M705.2,284.81 h1.6 M808,284.81 h-1.6 M705.2,309.7 h3 M808,309.7 h-3 M705.2,328.01 h1.6 M808,328.01 h-1.6 M705.2,323.40 h1.6 M808,323.40 h-1.6 M705.2,320.14 h1.6 M808,320.14 h-1.6 M705.2,317.61 h1.6 M808,317.61 h-1.6 M705.2,315.54 h1.6 M808,315.54 h-1.6 M705.2,313.79 h1.6 M808,313.79 h-1.6 M705.2,312.27 h1.6 M808,312.27 h-1.6 M705.2,310.94 h1.6 M808,310.94 h-1.6 M705.2,335.9 h3 M808,335.9 h-3 M705.2,354.13 h1.6 M808,354.13 h-1.6 M705.2,349.53 h1.6 M808,349.53 h-1.6 M705.2,346.27 h1.6 M808,346.27 h-1.6 M705.2,343.74 h1.6 M808,343.74 h-1.6 M705.2,341.67 h1.6 M808,341.67 h-1.6 M705.2,339.92 h1.6 M808,339.92 h-1.6 M705.2,338.40 h1.6 M808,338.40 h-1.6 M705.2,337.07 h1.6 M808,337.07 h-1.6 M705.1,362 v-3 M705.1,179.1 v3 M715.4,362 v-1.6 M715.4,179.1 v1.6 M725.6,362 v-3 M725.6,179.1 v3 M735.9,362 v-1.6 M735.9,179.1 v1.6 M746.1,362 v-3 M746.1,179.1 v3 M756.4,362 v-1.6 M756.4,179.1 v1.6 M766.6,362 v-3 M766.6,179.1 v3 M776.9,362 v-1.6 M776.9,179.1 v1.6 M787.1,362 v-3 M787.1,179.1 v3 M797.4,362 v-1.6 M797.4,179.1 v1.6 M807.6,362 v-3 M807.6,179.1 v3" stroke="#222" stroke-width="0.8" fill="none"/>
<text x="700.0" y="182.9" font-family="Liberation Serif" fill="#111" stroke="#111" stroke-width="0.22" font-size="10.5" text-anchor="end" >10<tspan font-size="6" dy="-4.5" stroke-width="0">-5</tspan></text>
<text x="700.0" y="209.0" font-family="Liberation Serif" fill="#111" stroke="#111" stroke-width="0.22" font-size="10.5" text-anchor="end" >10<tspan font-size="6" dy="-4.5" stroke-width="0">-6</tspan></text>
<text x="700.0" y="235.2" font-family="Liberation Serif" fill="#111" stroke="#111" stroke-width="0.22" font-size="10.5" text-anchor="end" >10<tspan font-size="6" dy="-4.5" stroke-width="0">-7</tspan></text>
<text x="700.0" y="261.3" font-family="Liberation Serif" fill="#111" stroke="#111" stroke-width="0.22" font-size="10.5" text-anchor="end" >10<tspan font-size="6" dy="-4.5" stroke-width="0">-8</tspan></text>
<text x="700.0" y="287.4" font-family="Liberation Serif" fill="#111" stroke="#111" stroke-width="0.22" font-size="10.5" text-anchor="end" >10<tspan font-size="6" dy="-4.5" stroke-width="0">-9</tspan></text>
<text x="700.0" y="313.5" font-family="Liberation Serif" fill="#111" stroke="#111" stroke-width="0.22" font-size="10.5" text-anchor="end" >10<tspan font-size="6" dy="-4.5" stroke-width="0">-10</tspan></text>
<text x="700.0" y="339.7" font-family="Liberation Serif" fill="#111" stroke="#111" stroke-width="0.22" font-size="10.5" text-anchor="end" >10<tspan font-size="6" dy="-4.5" stroke-width="0">-11</tspan></text>
<text x="700.0" y="365.8" font-family="Liberation Serif" fill="#111" stroke="#111" stroke-width="0.22" font-size="10.5" text-anchor="end" >10<tspan font-size="6" dy="-4.5" stroke-width="0">-12</tspan></text>
<text x="703.6" y="375.5" font-family="Liberation Serif" fill="#111" stroke="#111" stroke-width="0.22" font-size="9.5" text-anchor="middle">-2</text>
<text x="724.1" y="375.5" font-family="Liberation Serif" fill="#111" stroke="#111" stroke-width="0.22" font-size="9.5" text-anchor="middle">-1</text>
<text x="746.1" y="375.5" font-family="Liberation Serif" fill="#111" stroke="#111" stroke-width="0.22" font-size="9.5" text-anchor="middle">0</text>
<text x="766.6" y="375.5" font-family="Liberation Serif" fill="#111" stroke="#111" stroke-width="0.22" font-size="9.5" text-anchor="middle">1</text>
<text x="787.1" y="375.5" font-family="Liberation Serif" fill="#111" stroke="#111" stroke-width="0.22" font-size="9.5" text-anchor="middle">2</text>
<text x="807.6" y="375.5" font-family="Liberation Serif" fill="#111" stroke="#111" stroke-width="0.22" font-size="9.5" text-anchor="middle">3</text>
<text x="524.5" y="179.5" font-family="Liberation Sans" fill="#111" font-size="14">(<tspan font-style="italic">f</tspan>)</text>
<path d="M570.8,266.6 L574.5,268.5 L577.3,275.9 L579.0,283.0 L580.2,286.0 L581.2,293.0 L583.0,298.0 L585.2,308.9 L589.2,312.9 L591.8,328.8 L594.5,347.3 L596.6,354.0 L599.2,344.7 L602.4,330.1 L605.0,331.4 L607.7,316.9 L610.3,307.6 L613.0,292.0 L615.6,275.9 L618.3,260.0 L621.5,249.1 L624.5,240.0 L626.2,230.5 L631.3,221.4 L635.3,218.4 L642.3,211.3 L653.4,204.3 L664.5,199.2 L672.6,197.2" stroke="#e83232" stroke-width="1.6" fill="none"/>
<path d="M571.0,281.3 L577.1,270.2 L585.2,258.1 L593.2,249.1 L601.3,241.0 L608.1,234.5 L620.2,226.5 L632.3,221.4 L648.4,218.4 L660.5,216.4 L672.6,215.4" stroke="#2a2aa8" stroke-width="1.7" fill="none" stroke-dasharray="1.8,1.4"/>
<line x1="576.5" y1="191.3" x2="597" y2="191.3" stroke="#e83232" stroke-width="1.6"/>
<line x1="576.5" y1="202.3" x2="597" y2="202.3" stroke="#2a2aa8" stroke-width="1.7" stroke-dasharray="1.8,1.4"/>
<text x="600.2" y="195.2" font-family="Liberation Serif" fill="#111" stroke="#111" stroke-width="0.25" font-size="9.8" textLength="22.5" lengthAdjust="spacingAndGlyphs">10 nm</text>
<text x="600.2" y="206.2" font-family="Liberation Serif" fill="#111" stroke="#111" stroke-width="0.25" font-size="9.8" textLength="22.5" lengthAdjust="spacingAndGlyphs">50 nm</text>
<text x="641.5" y="193.2" font-family="Liberation Serif" fill="#111" stroke="#111" stroke-width="0.25" font-size="9" font-weight="bold" textLength="27.5" lengthAdjust="spacingAndGlyphs">V<tspan font-size="5.5" dy="2.5">ds</tspan><tspan dy="-2.5">=0.5V</tspan></text>
<text x="623" y="357.5" font-family="Liberation Serif" fill="#111" stroke="#111" stroke-width="0.25" font-size="9.5" textLength="45" lengthAdjust="spacingAndGlyphs">Er electrode</text>
<line x1="582.1" y1="271.3" x2="596.3" y2="252.1" stroke="#555" stroke-width="1.4"/>
<text transform="translate(588.5,281) rotate(-53.5)" font-family="Liberation Serif" fill="#111" stroke="#111" stroke-width="0.25" font-size="8" textLength="36" lengthAdjust="spacingAndGlyphs">870 mV/dec</text>
<line x1="618.4" y1="277.3" x2="625.5" y2="254.1" stroke="#555" stroke-width="1.4"/>
<text transform="translate(626,284) rotate(-69)" font-family="Liberation Serif" fill="#111" stroke="#111" stroke-width="0.25" font-size="8" textLength="35" lengthAdjust="spacingAndGlyphs">160 mV/dec</text>
<path d="M705.5,297.1 L708.6,300.3 L711.5,298.0 L713.9,301.4 L716.0,296.0 L718.2,293.9 L721.4,297.5 L723.5,295.0 L725.7,296.1 L727.8,300.3 L730.0,297.0 L732.1,296.1 L735.3,304.6 L737.0,316.0 L738.5,325.0 L740.7,314.3 L743.9,312.1 L746.0,317.5 L748.0,320.0 L750.3,327.1 L753.5,337.8 L755.0,346.0 L756.7,359.2 L757.8,362.4 L761.0,362.4 L764.2,348.5 L766.4,346.4 L768.5,362.4 L770.7,344.2 L772.1,320.0 L774.1,296.4 L775.1,286.3 L776.1,266.1 L778.1,264.1 L780.2,250.0 L782.2,234.5 L785.2,222.4 L788.2,215.4 L794.3,210.3 L800.3,206.3 L808.0,203.3" stroke="#e83232" stroke-width="1.6" fill="none"/>
<path d="M716.1,248.1 L722.2,254.1 L730.2,268.2 L736.5,279.5 L738.5,284.0 L737.2,286.0 L740.5,288.5 L739.2,291.0 L742.3,294.4 L741.5,297.0 L744.5,300.0 L746.4,303.5 L749.4,302.5 L750.5,296.0 L749.2,293.0 L751.8,290.0 L750.8,287.0 L753.0,284.0 L752.2,281.0 L755.0,278.0 L758.5,270.2 L764.0,242.6 L770.1,232.5 L778.1,224.4 L788.2,216.4 L798.3,208.3 L808.0,204.3" stroke="#2a2aa8" stroke-width="1.7" fill="none" stroke-dasharray="1.8,1.4"/>
<line x1="710.2" y1="190.8" x2="731.4" y2="190.8" stroke="#e83232" stroke-width="1.6"/>
<line x1="710.2" y1="202.3" x2="731.4" y2="202.3" stroke="#2a2aa8" stroke-width="1.7" stroke-dasharray="1.8,1.4"/>
<text x="733.6" y="195.2" font-family="Liberation Serif" fill="#111" stroke="#111" stroke-width="0.25" font-size="9.8" textLength="24" lengthAdjust="spacingAndGlyphs">10 nm</text>
<text x="733.6" y="206.2" font-family="Liberation Serif" fill="#111" stroke="#111" stroke-width="0.25" font-size="9.8" textLength="24" lengthAdjust="spacingAndGlyphs">20 nm</text>
<text x="778.3" y="193.2" font-family="Liberation Serif" fill="#111" stroke="#111" stroke-width="0.25" font-size="9" font-weight="bold" textLength="28" lengthAdjust="spacingAndGlyphs">V<tspan font-size="5.5" dy="2.5">ds</tspan><tspan dy="-2.5">=0.5V</tspan></text>
<text x="706.8" y="357.5" font-family="Liberation Serif" fill="#111" stroke="#111" stroke-width="0.25" font-size="9.5" textLength="42.5" lengthAdjust="spacingAndGlyphs">Y electrode</text>
<line x1="754.4" y1="264.2" x2="762.5" y2="247.1" stroke="#555" stroke-width="1.4"/>
<text transform="translate(747.8,270) rotate(-66)" font-family="Liberation Serif" fill="#111" stroke="#111" stroke-width="0.25" font-size="8.5" textLength="36" lengthAdjust="spacingAndGlyphs">420 mV/dec</text>
<line x1="779.2" y1="281.3" x2="779.2" y2="310.5" stroke="#555" stroke-width="1.4"/>
<text transform="translate(789.5,312.5) rotate(-90)" font-family="Liberation Serif" fill="#111" stroke="#111" stroke-width="0.25" font-size="8" textLength="36" lengthAdjust="spacingAndGlyphs">100 mV/dec</text>
<text transform="translate(541.5,298) rotate(-90)" font-family="Liberation Serif" fill="#111" stroke="#111" stroke-width="0.25" font-size="16.5">I<tspan font-size="10" dy="3" font-style="italic">d</tspan><tspan dy="-3"> (A)</tspan></text>
<text x="607" y="390.5" font-family="Liberation Serif" fill="#111" stroke="#111" stroke-width="0.25" font-size="12">V<tspan font-size="7" dy="4">gs</tspan><tspan dy="-4"> (V)</tspan></text>
<text x="741.5" y="390.5" font-family="Liberation Serif" fill="#111" stroke="#111" stroke-width="0.25" font-size="12">V<tspan font-size="7" dy="4">gs</tspan><tspan dy="-4"> (V)</tspan></text>
</g>
</svg></body></html>
